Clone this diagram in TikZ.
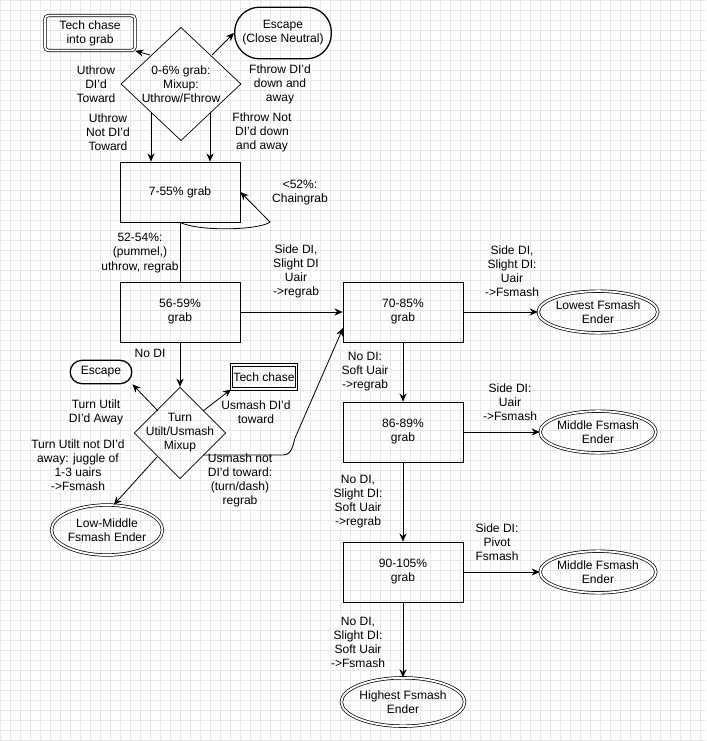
\documentclass[tikz,border=0pt]{standalone}
\usepackage{fontspec}
\setmainfont{Liberation Sans}
\usetikzlibrary{shapes.geometric,arrows.meta}
\begin{document}
\begin{tikzpicture}[x=0.03cm,y=-0.03cm,
  every node/.style={font=\fontsize{10.3}{12}\selectfont,align=center},
  box/.style={draw,line width=0.6pt,minimum width=3.6cm,minimum height=1.8cm,inner sep=0pt},
  dia/.style={draw,line width=0.6pt,diamond,aspect=1,inner sep=0pt},
  dbl/.style={draw,line width=0.6pt,double=white,double distance=1.6pt,inner sep=0pt},
  ell/.style={draw,ellipse,line width=0.6pt,double=white,double distance=1.6pt,inner sep=0pt},
  lbl/.style={inner sep=0pt},
  arr/.style={-{Stealth[length=7pt,width=6pt]},line width=0.7pt}]
\useasboundingbox (0,0) rectangle (706,741);
\draw[black!9,step=0.3cm] (0,0) grid (706,741);
\node[dbl,rounded corners=3pt,minimum width=2.7cm,minimum height=1.05cm] (tc1) at (90,33) {Tech chase\\into grab};
\node[draw,line width=1.1pt,rounded corners=0.75cm,minimum width=2.9cm,minimum height=1.55cm] (esc1) at (283,33) {Escape\\(Close Neutral)};
\node[dia,minimum width=3.6cm,minimum height=3.4cm] (d1) at (181,84) {};
\node at (181,84) {0-6\% grab:\\Mixup:\\Uthrow/Fthrow};
\node[box] (b1) at (180,192) {7-55\% grab};
\node[box] (b2) at (180,312) {56-59\%\\grab};
\node[box] (b3) at (403,312) {70-85\%\\grab};
\node[box] (b4) at (403,432) {86-89\%\\grab};
\node[box] (b5) at (403,572) {90-105\%\\grab};
\node[ell,minimum width=2.8cm,minimum height=1.25cm] (e1) at (598,312) {Lowest Fsmash\\Ender};
\node[ell,minimum width=2.8cm,minimum height=1.25cm] (e2) at (598,432) {Middle Fsmash\\Ender};
\node[ell,minimum width=2.8cm,minimum height=1.25cm] (e3) at (598,572) {Middle Fsmash\\Ender};
\node[ell,minimum width=2.8cm,minimum height=1.45cm] (e4) at (403,702) {Highest Fsmash\\Ender};
\node[ell,minimum width=3.2cm,minimum height=1.5cm] (e5) at (107,530) {Low-Middle\\Fsmash Ender};
\node[dia,minimum width=2.75cm,minimum height=2.75cm] (d2) at (180,433) {};
\node at (180,433) {Turn\\Utilt/Usmash\\Mixup};
\node[draw,line width=1.1pt,rounded corners=0.35cm,minimum width=1.85cm,minimum height=0.7cm] (esc2) at (101,372) {Escape};
\node[dbl,minimum width=1.95cm,minimum height=0.72cm] (tc2) at (264,377) {Tech chase};
\coordinate (d1l) at (150,55); \coordinate (d1r) at (212,55);
\coordinate (d1bl) at (151,112); \coordinate (d1br) at (210,112);
\draw[arr] (d1l) -- (tc1.south east);
\draw[arr] (d1r) -- (esc1.west);
\draw[arr] (d1bl) -- (b1.north -| d1bl);
\draw[arr] (d1br) -- (b1.north -| d1br);
\draw[arr] (b1.south) .. controls (200,232) and (260,230) .. (270,222) -- (b1.east);
\draw[line width=0.7pt] (b1.south) -- (b2.north);
\draw[arr] (b2.east) -- (b3.west);
\draw[arr] (b3.east) -- (e1.west);
\draw[arr] (b4.east) -- (e2.west);
\draw[arr] (b5.east) -- (e3.west);
\draw[arr] (b3.south) -- (b4.north);
\draw[arr] (b4.south) -- (b5.north);
\draw[arr] (b5.south) -- (e4.north);
\draw[arr] (b2.south) -- (d2.north);
\coordinate (d2a) at (158,411); \coordinate (d2b) at (203,411);
\coordinate (d2c) at (157,457); \coordinate (d2d) at (203,455);
\draw[arr] (d2a) -- (esc2.south east);
\draw[arr] (d2b) -- (tc2.south west);
\draw[arr] (d2c) -- (e5.75);
\draw[arr] (d2d) -- (283,455) .. controls (292,455) and (293,445) .. (295,438) -- (343,328);
\node[lbl] at (96,84) {Uthrow\\DI'd\\Toward};
\node[lbl] at (108,132) {Uthrow\\Not DI'd\\Toward};
\node[lbl] at (280,84) {Fthrow DI'd\\down and\\away};
\node[lbl] at (262,132) {Fthrow Not\\DI'd down\\and away};
\node[lbl] at (300,193) {<52\%:\\Chaingrab};
\node[lbl] at (140,253) {52-54\%:\\(pummel,)\\uthrow, regrab};
\node[lbl] at (296,271) {Side DI,\\Slight DI\\Uair\\->regrab};
\node[lbl] at (512,271) {Side DI,\\Slight DI:\\Uair\\->Fsmash};
\node[lbl] at (365,372) {No DI:\\Soft Uair\\->regrab};
\node[lbl] at (510,402) {Side DI:\\Uair\\->Fsmash};
\node[lbl] at (358,502) {No DI,\\Slight DI:\\Soft Uair\\->regrab};
\node[lbl] at (497,542) {Side DI:\\Pivot\\Fsmash};
\node[lbl] at (358,642) {No DI,\\Slight DI:\\Soft Uair\\->Fsmash};
\node[lbl] at (150,353) {No DI};
\node[lbl] at (96,412) {Turn Utilt\\DI'd Away};
\node[lbl] at (256,412) {Usmash DI'd\\toward};
\node[lbl] at (78,465) {Turn Utilt not DI'd\\away: juggle of\\1-3 uairs\\->Fsmash};
\node[lbl] at (240,480) {Usmash not\\DI'd toward:\\(turn/dash)\\regrab};
\end{tikzpicture}
\end{document}
